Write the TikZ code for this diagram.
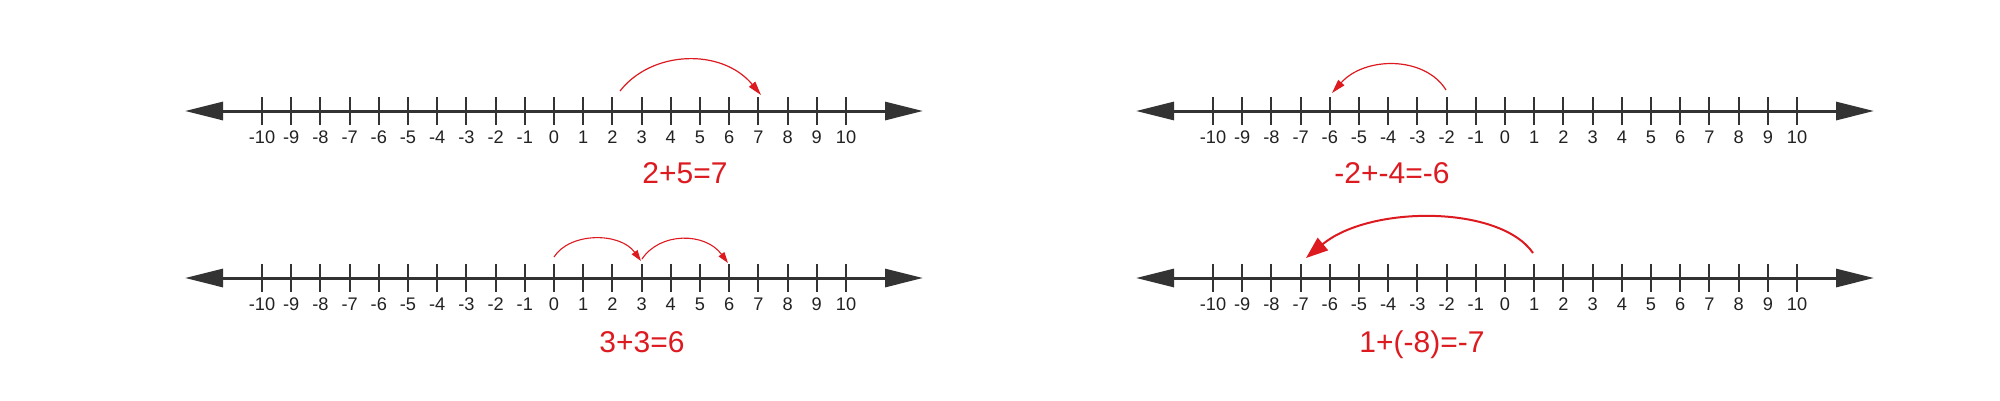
\documentclass[tikz,border=0pt]{standalone}
\usepackage{fontspec}
\setmainfont{Liberation Sans}
\usetikzlibrary{arrows.meta}
\definecolor{axisgray}{HTML}{333333}
\definecolor{numred}{HTML}{DC1A20}
\definecolor{labgray}{HTML}{222222}
\tikzset{
  axis/.style={draw=axisgray, line width=3pt,
    {Triangle[length=38pt,width=18pt]}-{Triangle[length=38pt,width=18pt]}},
  tickmark/.style={draw=axisgray, line width=2pt},
  ticklabel/.style={font=\fontsize{18.2}{20}\selectfont, text=labgray, anchor=base, inner sep=0pt},
  sumlabel/.style={font=\fontsize{30}{34}\selectfont, text=numred, anchor=base, inner sep=0pt},
  hop/.style={draw=numred, line width=1.2pt, -{Triangle[length=14pt,width=8pt]}},
  smallhop/.style={draw=numred, line width=1.1pt, -{Triangle[length=11pt,width=7pt]}},
  bighop/.style={draw=numred, line width=2pt, -{Triangle[length=22pt,width=16pt]}},
}
\newcommand\drawnumline[3]{%
  \coordinate (#1-L) at (#2-369,#3);
  \coordinate (#1-R) at (#2+369,#3);
  \draw[axis] (#1-L) -- (#1-R);
  \foreach \i in {-10,...,10}{
    \pgfmathsetmacro\xx{#2+29.2*(\i)}
    \coordinate (#1-top\i) at (\xx,#3-14);
    \coordinate (#1-bot\i) at (\xx,#3+14);
    \draw[tickmark] (#1-top\i) -- (#1-bot\i);
    \node[ticklabel] (#1-lab\i) at (\xx,#3+32.3) {\i};
  }%
}
\begin{document}
\begin{tikzpicture}[x=1pt,y=-1pt]
\fill[white] (0,0) rectangle (2000,400);
\useasboundingbox (0,0) rectangle (2000,400);

% number lines
\drawnumline{A}{554}{111}
\drawnumline{B}{554}{278}
\drawnumline{C}{1505}{111}
\drawnumline{D}{1505}{278}

% hops
\coordinate (As) at (620,91);
\coordinate (Ae) at (761,95);
\draw[hop] (As) .. controls (652,50) and (722,48) .. (Ae);

\coordinate (B1s) at (554,257);
\coordinate (B1e) at (641,261);
\coordinate (B2s) at (642,259);
\coordinate (B2e) at (728,263);
\draw[smallhop] (B1s) .. controls (570,232) and (620,232) .. (B1e);
\draw[smallhop] (B2s) .. controls (660,232) and (705,232) .. (B2e);

\coordinate (Cs) at (1446,90);
\coordinate (Ce) at (1332,93);
\draw[hop] (Cs) .. controls (1425,56) and (1365,56) .. (Ce);

\coordinate (Ds) at (1533,253);
\coordinate (De) at (1306,258);
\draw[bighop] (Ds) .. controls (1500,205) and (1370,205) .. (De);

% sums
\node[sumlabel] (Asum) at (685,183.3) {2+5=7};
\node[sumlabel] (Bsum) at (642,352) {3+3=6};
\node[sumlabel] (Csum) at (1392,183.3) {-2+-4=-6};
\node[sumlabel] (Dsum) at (1422,352) {1+(-8)=-7};
\end{tikzpicture}
\end{document}
